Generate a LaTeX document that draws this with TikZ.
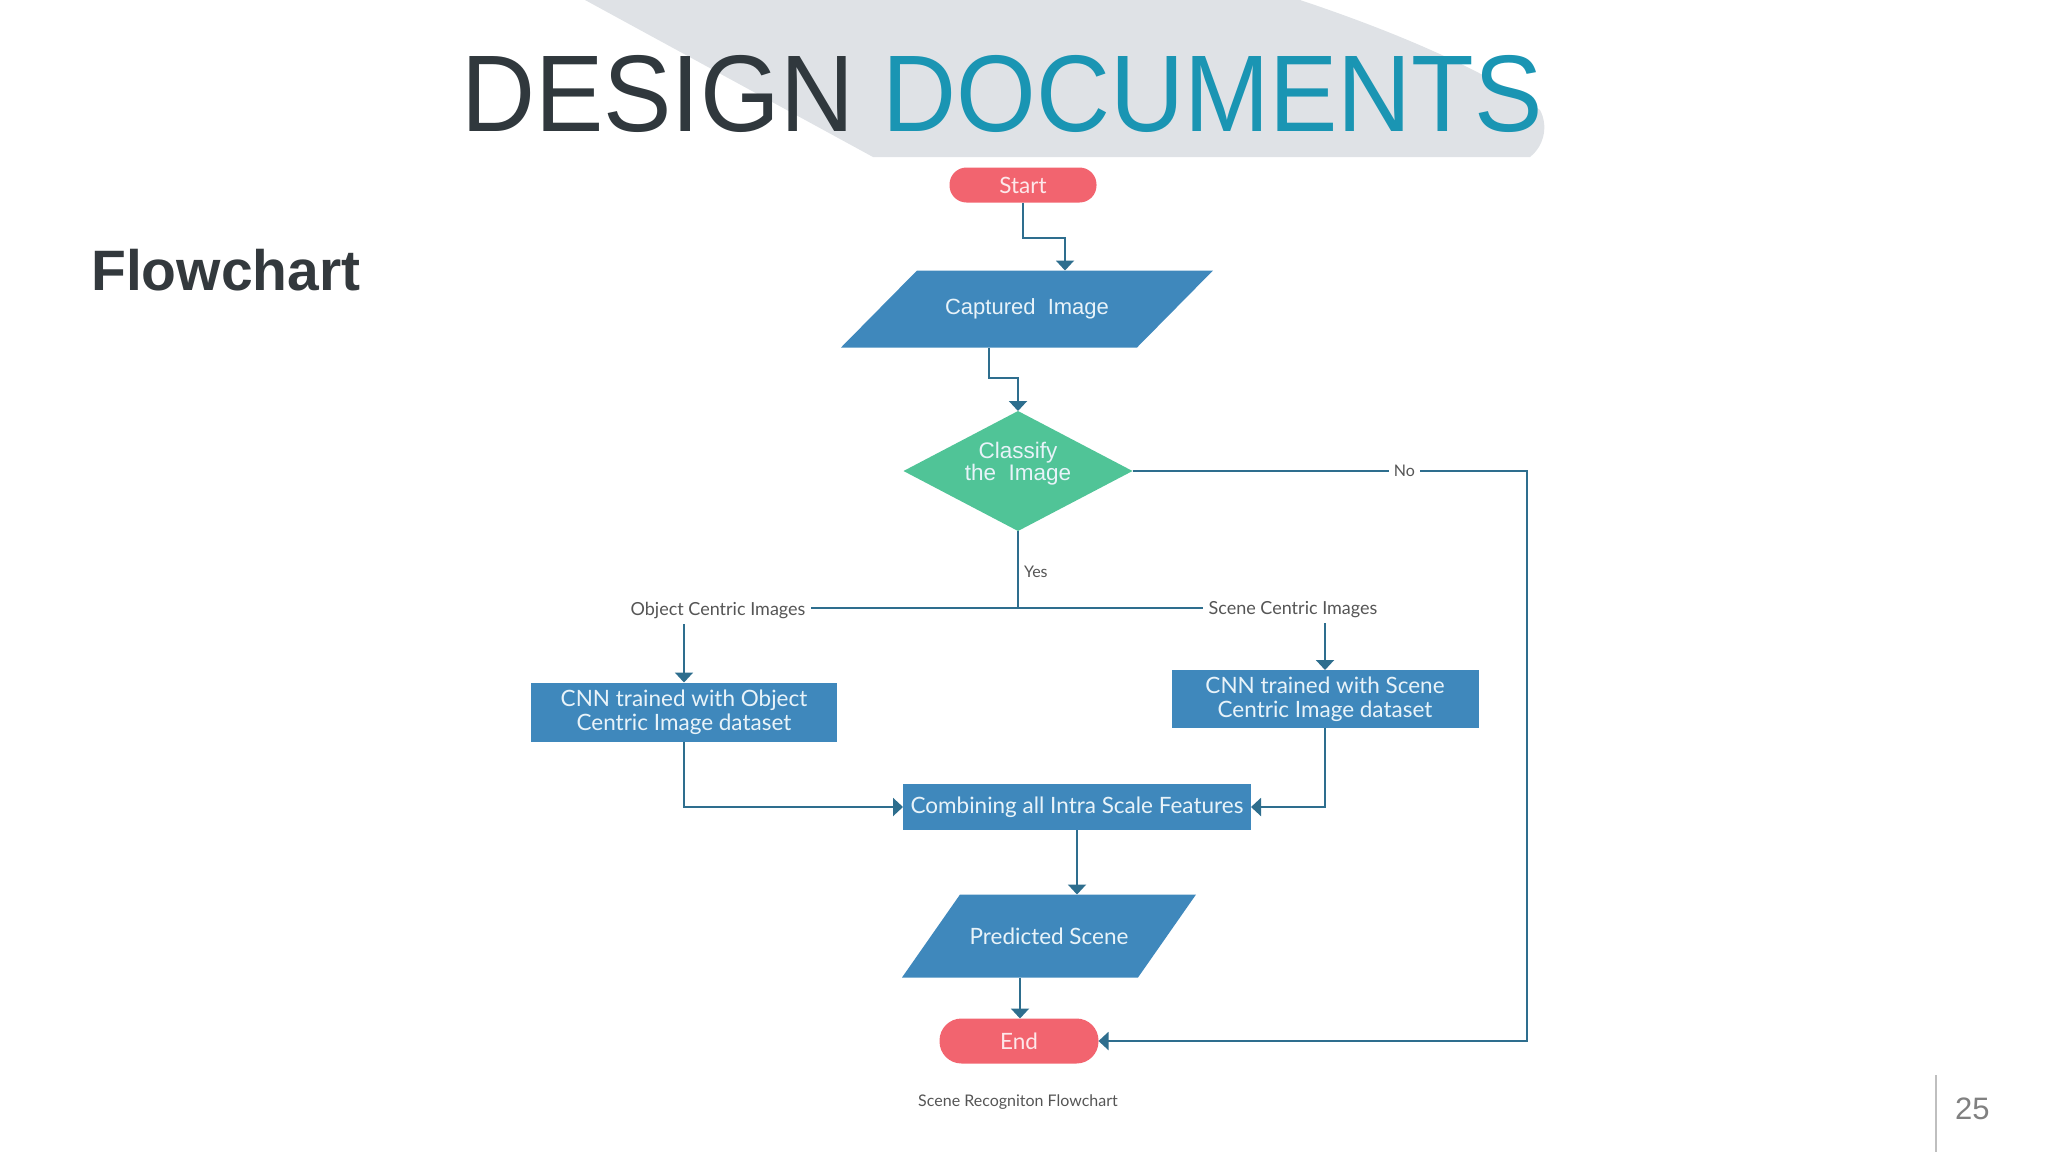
\documentclass[tikz,border=0pt]{standalone}
\usepackage{fontspec}
\setmainfont{Liberation Sans}
\newfontfamily\lato{Lato}
\usetikzlibrary{arrows.meta,shapes.geometric,calc,backgrounds}

\definecolor{pillc}{HTML}{F2646F}
\definecolor{pilltext}{HTML}{FDE8EA}
\definecolor{boxc}{HTML}{3F88BC}
\definecolor{diac}{HTML}{50C497}
\definecolor{linec}{HTML}{2E6E8E}
\definecolor{titledark}{HTML}{30383D}
\definecolor{titleteal}{HTML}{1A95B3}
\definecolor{brushc}{HTML}{DFE2E6}
\definecolor{labelc}{HTML}{555555}
\definecolor{boxtext}{HTML}{E8F3F9}
\definecolor{headc}{HTML}{33393D}
\definecolor{pagec}{HTML}{808080}

\begin{document}
\begin{tikzpicture}[x=1pt,y=-1pt,
  conn/.style={draw=linec,line width=2pt,-{Triangle[width=18pt,length=10pt]}},
  plainline/.style={draw=linec,line width=2pt},
  pill/.style={rectangle,fill=pillc,text=pilltext,inner sep=0pt,outer sep=0pt,
    font=\lato\fontsize{22.5}{26}\selectfont},
  procbox/.style={rectangle,fill=boxc,text=boxtext,inner sep=0pt,outer sep=0pt,align=center,
    font=\lato\fontsize{22.5}{24}\selectfont},
  slantbox/.style={rectangle,inner sep=0pt,outer sep=0pt,text=boxtext,align=center},
  lbl/.style={fill=white,text=labelc,inner xsep=6pt,inner ysep=5pt,font=\lato\fontsize{18}{21}\selectfont},
  smalllbl/.style={text=labelc,inner sep=2pt,font=\lato\fontsize{16}{18}\selectfont},
]
\useasboundingbox (0,0) rectangle (2048,1152);

% title brush
\fill[brushc] (585,0) -- (1300,0) .. controls (1420,40) and (1500,80) .. (1540,110)
  .. controls (1548,125) and (1545,145) .. (1530,157) -- (873,157) -- cycle;

% title and headings
\node[anchor=base] (title) at (1002,131)
  {\scalebox{0.94}[1]{\fontsize{109}{120}\selectfont\color{titledark}DESIGN \color{titleteal}DOCUMENTS}};
\node[anchor=base west,inner sep=0pt,text=headc] (heading) at (91,290)
  {\bfseries\fontsize{57}{60}\selectfont Flowchart};
\node[anchor=base west,inner sep=0pt,text=pagec] (pagenum) at (1955,1119)
  {\fontsize{31}{34}\selectfont 25};
\draw[black!25,line width=1.5pt] (1936,1075) -- (1936,1152);

% nodes
\node[pill,minimum width=147pt,minimum height=35pt,rounded corners=17pt] (start) at (1023,185) {Start};
\node[slantbox,minimum width=296pt,minimum height=77pt,font=\fontsize{22}{26}\selectfont] (cap) at (1027,309) {Captured\ \ Image};
\node[diamond,fill=diac,minimum width=229pt,minimum height=120pt,inner sep=0pt,outer sep=0pt,aspect=1.9] (cls) at (1018,471) {};
\node[text=boxtext,align=center,inner sep=0pt,font=\fontsize{22.5}{22}\selectfont] (clstext) at (1018,464) {Classify\\the\ \ Image};
\node[procbox,minimum width=306pt,minimum height=59pt] (cnno) at (684,712) {CNN trained with Object\\Centric Image dataset};
\node[procbox,minimum width=307pt,minimum height=58pt] (cnns) at (1325,699) {CNN trained with Scene\\Centric Image dataset};
\node[procbox,minimum width=348pt,minimum height=46pt] (comb) at (1077,807) {Combining all Intra Scale Features};
\node[slantbox,minimum width=236pt,minimum height=83pt,font=\lato\fontsize{22.5}{24}\selectfont] (pred) at (1049,936) {Predicted Scene};
\node[pill,minimum width=159pt,minimum height=45pt,rounded corners=22pt] (end) at (1019,1041) {End};

% parallelogram bodies
\begin{scope}[on background layer]
\fill[boxc] ($(cap.south west)+(-38,0)$) -- ($(cap.south east)+(-38,0)$)
  -- ($(cap.north east)+(38,0)$) -- ($(cap.north west)+(38,0)$) -- cycle;
\fill[boxc] ($(pred.south west)+(-29,0)$) -- ($(pred.south east)+(-29,0)$)
  -- ($(pred.north east)+(29,0)$) -- ($(pred.north west)+(29,0)$) -- cycle;
\end{scope}
\coordinate (captop) at ($(cap.north)+(38,0)$);
\coordinate (capbot) at ($(cap.south)+(-38,0)$);
\coordinate (predtop) at ($(pred.north)+(29,0)$);
\coordinate (predbot) at ($(pred.south)+(-29,0)$);

% connectors
\draw[conn] (start.south) -- ++(0,35) -| (captop);
\draw[conn] (capbot) -- ++(0,30) -| (cls.north);
\draw[conn] (cls.east) -- node[pos=0.69,fill=white,text=labelc,inner xsep=5pt,inner ysep=3pt,font=\lato\fontsize{16}{18}\selectfont] {No} ++(394,0) |- (end.east);
\draw[plainline] (cls.south) -- node[smalllbl,anchor=west,pos=0.53,xshift=3pt] {Yes} ++(0,77) coordinate (split);
\draw[conn] (split) -| (cnno.north);
\draw[conn] (split) -| (cnns.north);
\node[lbl] (objlbl) at (718,611) {Object Centric Images};
\node[lbl] (scnlbl) at (1293,610) {Scene Centric Images};
\draw[conn] (cnno.south) |- (comb.west);
\draw[conn] (cnns.south) |- (comb.east);
\draw[conn] (comb.south) -- (comb.south |- predtop);
\draw[conn] (predbot) -- (predbot |- end.north);

% caption
\node[text=labelc,font=\lato\fontsize{16}{18}\selectfont] (caption) at (1018,1102) {Scene Recogniton Flowchart};
\end{tikzpicture}
\end{document}
